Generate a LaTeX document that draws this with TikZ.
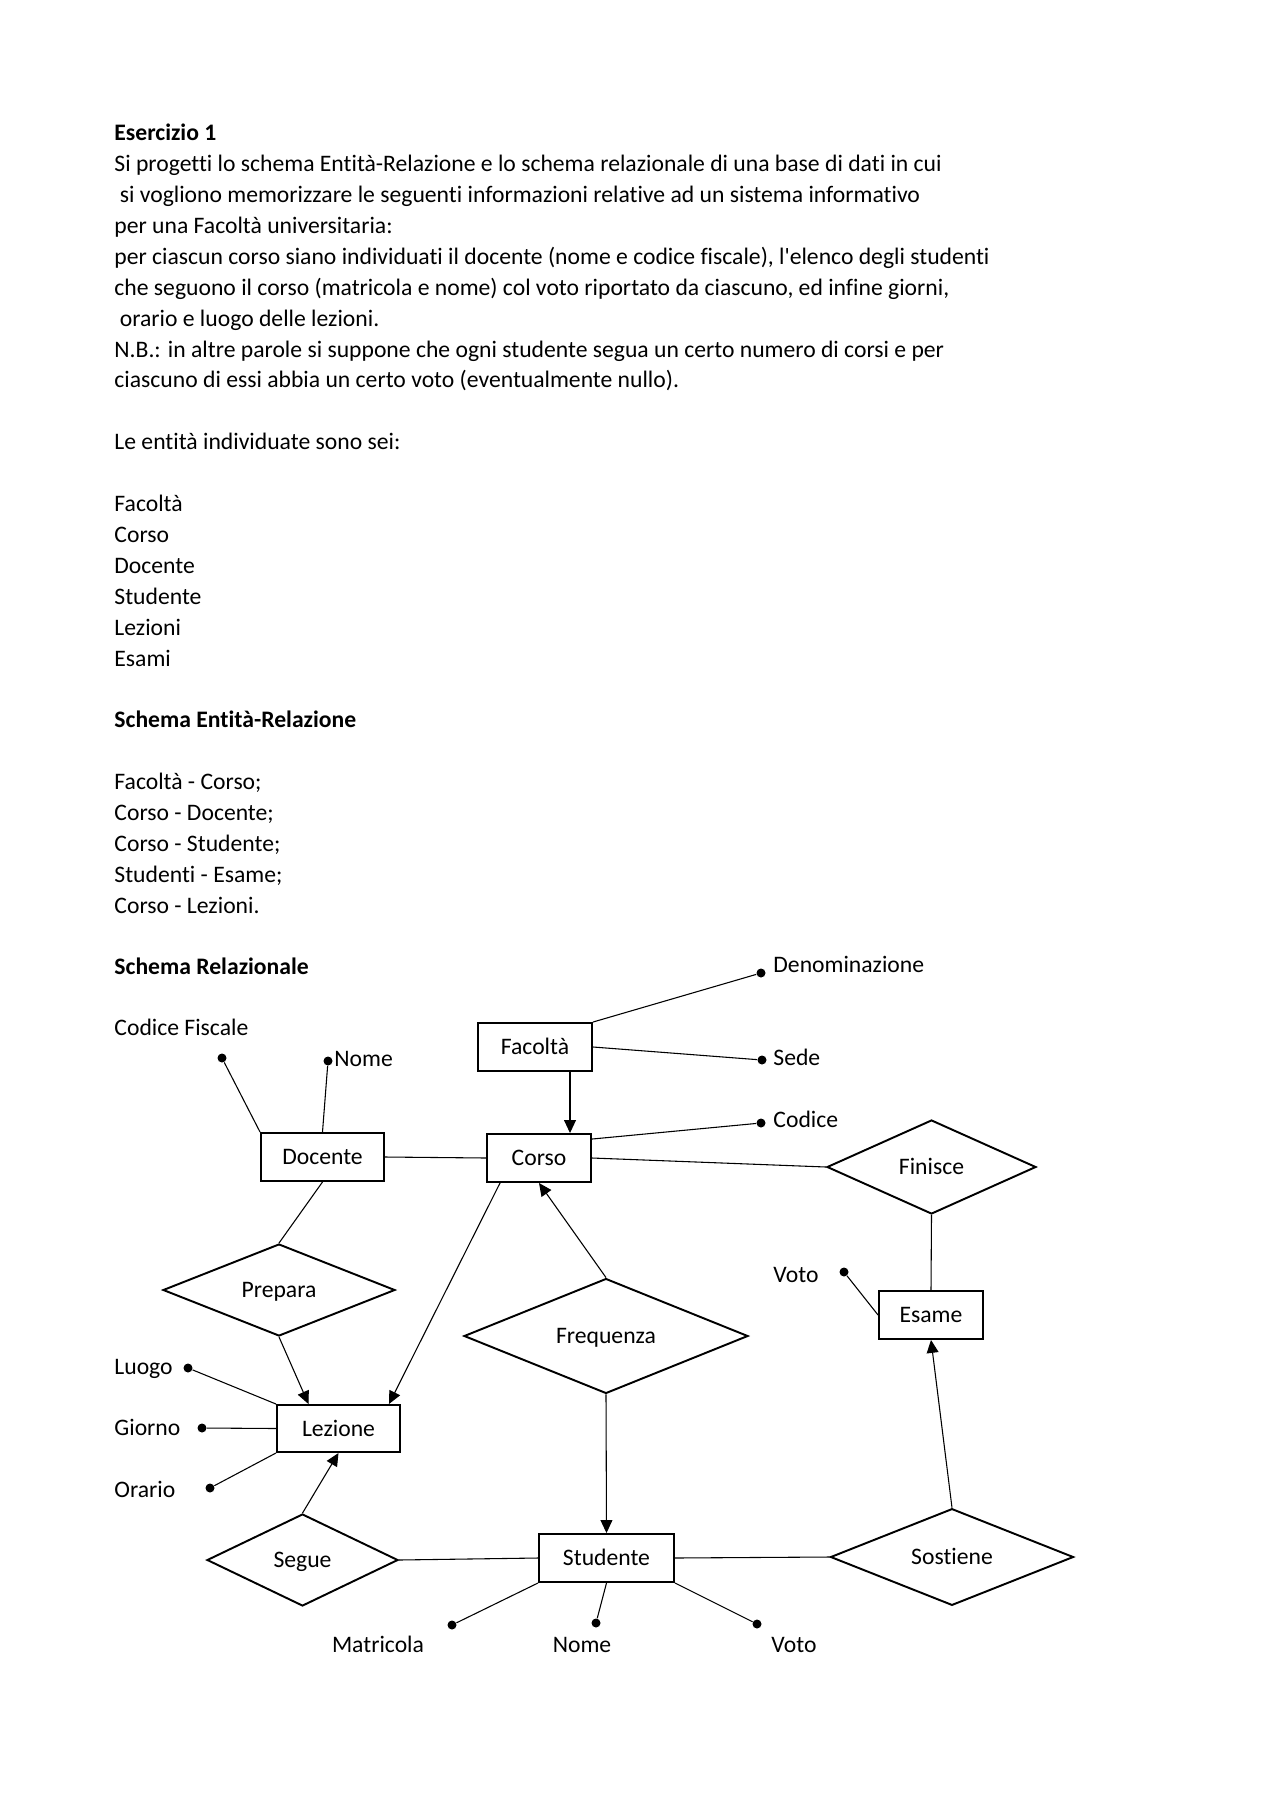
\documentclass[tikz,border=0pt]{standalone}
\usepackage{fontspec}
\newfontfamily\calfont{Carlito}[Ligatures=NoCommon]
\usetikzlibrary{shapes.geometric,arrows.meta,calc}
\def\PX{0.46506pt}
\begin{document}
\begin{tikzpicture}[x=0.46506pt,y=-0.46506pt,
  every node/.style={font=\calfont\fontsize{11pt}{13pt}\selectfont},
  txt/.style={inner sep=0pt,anchor=base west},
  lbl/.style={inner sep=0pt,anchor=base},
  ent/.style={draw,line width=0.9pt,inner sep=0pt,text height=7pt,text depth=0pt},
  rel/.style={draw,diamond,line width=0.9pt,inner sep=0pt,aspect=1,text height=7pt,text depth=0pt},
  dot/.style={circle,fill=black,inner sep=0pt,minimum size=9*\PX},
  con/.style={line width=0.5pt},
  arr/.style={line width=0.5pt,-{Triangle[length=6pt,width=5.5pt]}}]
\fill[white] (0,0) rectangle (1280,1811);
\useasboundingbox (0,0) rectangle (1280,1811);
% ---- text ----
\node[txt,font=\calfont\fontsize{11pt}{13pt}\selectfont\bfseries] (t0) at (114,140.7) {Esercizio 1};
\node[txt] (t1) at (114,171.6) {Si progetti lo schema Entità-Relazione e lo schema relazionale di una base di dati in cui};
\node[txt] (t2) at (114,202.5) {\hspace*{2.5pt}si vogliono memorizzare le seguenti informazioni relative ad un sistema informativo};
\node[txt] (t3) at (114,233.4) {per una Facoltà universitaria:};
\node[txt] (t4) at (114,264.3) {per ciascun corso siano individuati il docente (nome e codice fiscale), l'elenco degli studenti};
\node[txt] (t5) at (114,295.2) {che seguono il corso (matricola e nome) col voto riportato da ciascuno, ed infine giorni,};
\node[txt] (t6) at (114,326.1) {\hspace*{2.5pt}orario e luogo delle lezioni.};
\node[txt] (t7) at (114,357.0) {N.B.: in altre parole si suppone che ogni studente segua un certo numero di corsi e per};
\node[txt] (t8) at (114,387.9) {ciascuno di essi abbia un certo voto (eventualmente nullo).};
\node[txt] (t10) at (114,449.7) {Le entità individuate sono sei:};
\node[txt] (t12) at (114,511.5) {Facoltà};
\node[txt] (t13) at (114,542.4) {Corso};
\node[txt] (t14) at (114,573.3) {Docente};
\node[txt] (t15) at (114,604.2) {Studente};
\node[txt] (t16) at (114,635.1) {Lezioni};
\node[txt] (t17) at (114,666.0) {Esami};
\node[txt,font=\calfont\fontsize{11pt}{13pt}\selectfont\bfseries] (t19) at (114,727.8) {Schema Entità-Relazione};
\node[txt] (t21) at (114,789.6) {Facoltà - Corso;};
\node[txt] (t22) at (114,820.5) {Corso - Docente;};
\node[txt] (t23) at (114,851.4) {Corso - Studente;};
\node[txt] (t24) at (114,882.3) {Studenti - Esame;};
\node[txt] (t25) at (114,913.2) {Corso - Lezioni.};
\node[txt,font=\calfont\fontsize{11pt}{13pt}\selectfont\bfseries] (t27) at (114,974.1) {Schema Relazionale};
% ---- entities ----
\node[ent,minimum width=123*\PX,minimum height=48*\PX] (doc) at (322.5,1157) {Docente};
\node[ent,minimum width=114*\PX,minimum height=48*\PX] (fac) at (535,1047) {Facoltà};
\node[ent,minimum width=104*\PX,minimum height=48*\PX] (cor) at (539,1158) {Corso};
\node[ent,minimum width=123*\PX,minimum height=47*\PX] (lez) at (338.5,1428.5) {Lezione};
\node[ent,minimum width=135*\PX,minimum height=48*\PX] (stu) at (606.5,1558) {Studente};
\node[ent,minimum width=104*\PX,minimum height=48*\PX] (esa) at (931,1315) {Esame};
% ---- relationships ----
\node[rel,minimum width=232*\PX,minimum height=92*\PX] (pre) at (279,1290) {Prepara};
\node[rel,minimum width=284*\PX,minimum height=93*\PX] (fre) at (606,1336) {Frequenza};
\node[rel,minimum width=191*\PX,minimum height=92*\PX] (seg) at (302.5,1560) {Segue};
\node[rel,minimum width=243*\PX,minimum height=93*\PX] (sos) at (952,1557) {Sostiene};
\node[rel,minimum width=209*\PX,minimum height=94*\PX] (fin) at (931.5,1167) {Finisce};
% ---- attribute dots and labels ----
\node[dot] (dcf) at (222,1058) {};
\node[txt] (lcf) at (114,1035) {Codice Fiscale};
\node[dot] (dnm) at (328,1061) {};
\node[txt] (lnm) at (334,1066) {Nome};
\node[dot] (dden) at (761,973) {};
\node[txt] (lden) at (773,972) {Denominazione};
\node[dot] (dsed) at (762,1060) {};
\node[txt] (lsed) at (773,1065) {Sede};
\node[dot] (dcod) at (761,1123) {};
\node[txt] (lcod) at (773,1127) {Codice};
\node[dot] (dvte) at (844,1272) {};
\node[txt] (lvte) at (773,1282) {Voto};
\node[dot] (dluo) at (188,1368) {};
\node[txt] (lluo) at (114,1374) {Luogo};
\node[dot] (dgio) at (202,1428) {};
\node[txt] (lgio) at (114,1435) {Giorno};
\node[dot] (dora) at (210,1488) {};
\node[txt] (lora) at (114,1497) {Orario};
\node[dot] (dmat) at (452,1625) {};
\node[lbl] (lmat) at (378,1652) {Matricola};
\node[dot] (dsnm) at (596,1623) {};
\node[lbl] (lsnm) at (582,1652) {Nome};
\node[dot] (dsvt) at (757,1624) {};
\node[lbl] (lsvt) at (794,1652) {Voto};
% ---- connectors ----
\draw[con] (dcf) -- (doc.north west);
\draw[con] (dnm) -- (doc.north);
\draw[con] (fac.north east) -- (dden);
\draw[con] (fac.east) -- (dsed);
\draw[con] ([yshift=-6*\PX]cor.north east) -- (dcod);
\draw[arr] ([xshift=35*\PX]fac.south) -- ([xshift=35*\PX]fac.south |- cor.north);
\draw[con] (doc.east) -- (cor.west);
\draw[con] (cor.east) -- (fin.west);
\draw[con] (fin.south) -- (esa.north);
\draw[con] (dvte) -- (esa.west);
\draw[con] (doc.south) -- (pre.north);
\draw[arr] (pre.south) -- ([xshift=-30*\PX]lez.north);
\draw[arr] ([xshift=14*\PX]cor.south west) -- ([xshift=-12*\PX]lez.north east);
\draw[arr] (fre.north) -- (cor.south);
\draw[arr] (fre.south) -- (stu.north);
\draw[arr] (seg.north) -- (lez.south);
\draw[con] (seg.east) -- (stu.west);
\draw[con] (stu.east) -- (sos.west);
\draw[arr] (sos.north) -- (esa.south);
\draw[con] (dluo) -- (lez.north west);
\draw[con] (dgio) -- (lez.west);
\draw[con] (dora) -- (lez.south west);
\draw[con] (dmat) -- (stu.south west);
\draw[con] (dsnm) -- (stu.south);
\draw[con] (dsvt) -- (stu.south east);
\end{tikzpicture}
\end{document}
